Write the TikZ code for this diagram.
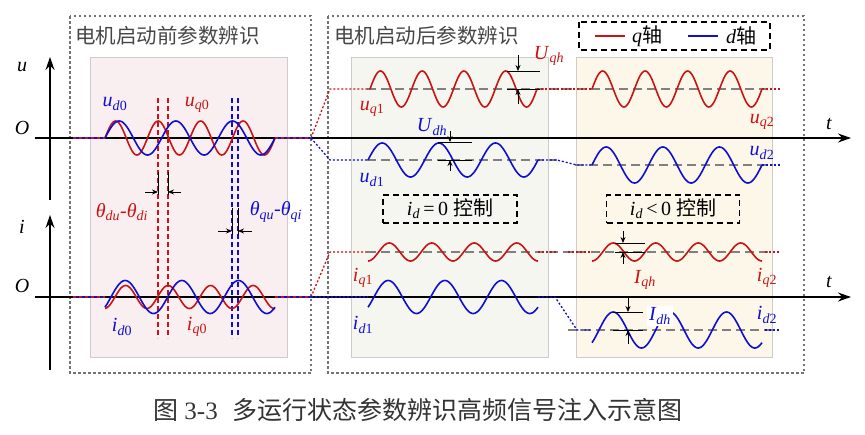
\documentclass[tikz,border=0pt]{standalone}
\usepackage{fontspec}
\setmainfont{Liberation Serif}
\newfontfamily\cjk{Noto Sans CJK SC}
\usetikzlibrary{arrows.meta}
\definecolor{qred}{RGB}{200,20,20}
\definecolor{dblue}{RGB}{15,15,210}
\definecolor{pinkbg}{RGB}{249,239,241}
\definecolor{greenbg}{RGB}{246,246,240}
\definecolor{creambg}{RGB}{253,247,234}
\definecolor{titlegray}{RGB}{70,70,70}
\newcommand{\vv}[2]{\textit{#1}\textsubscript{#2}}
\begin{document}
\begin{tikzpicture}[x=1pt,y=-1pt,
  wave/.style={line width=1.6pt,line join=round},
  qw/.style={wave,draw=qred},
  dw/.style={wave,draw=dblue},
  gdash/.style={draw=gray,line width=1.3pt,dash pattern=on 9pt off 5pt},
  qdot/.style={draw=qred,line width=1.3pt,dash pattern=on 2pt off 2pt},
  ddot/.style={draw=dblue,line width=1.3pt,dash pattern=on 2pt off 2pt},
  qalt/.style={draw=qred,line width=1.4pt,dash pattern=on 3pt off 3pt},
  dalt/.style={draw=dblue,line width=1.4pt,dash pattern=on 3pt off 3pt,dash phase=3pt},
  vq/.style={draw=qred,line width=1.1pt,dash pattern=on 5pt off 3pt},
  vd/.style={draw=dblue,line width=1.1pt,dash pattern=on 5pt off 3pt},
  frame/.style={draw=gray!90!black,line width=1.6pt,dash pattern=on 2.5pt off 2.5pt},
  panel/.style={draw=gray!40,line width=0.8pt},
  axis/.style={line width=1.6pt,-{Stealth[length=13pt,width=9pt]}},
  dim/.style={line width=1pt},
  dimarr/.style={line width=0.8pt,-{Stealth[length=6pt,width=5pt]}},
  lbl/.style={font=\fontsize{20}{24}\selectfont,inner sep=0pt},
  ttl/.style={font=\fontsize{20.5}{24}\selectfont\cjk,text=titlegray,inner sep=0pt}
]
\useasboundingbox (0,0) rectangle (865,434);

% frames and panels
\draw[frame] (70,16) rectangle (311,373);
\draw[frame] (328,16) rectangle (804,373);
\filldraw[panel,fill=pinkbg] (90,57) rectangle (287,357);
\filldraw[panel,fill=greenbg] (351,57) rectangle (548,357);
\filldraw[panel,fill=creambg] (576,57) rectangle (772,357);

\node[ttl,anchor=west] (t1) at (75,36) {电机启动前参数辨识};
\node[ttl,anchor=west] (t2) at (334,36) {电机启动后参数辨识};

% legend
\draw[line width=1.2pt,dash pattern=on 6pt off 4pt] (579,22) rectangle (770,50);
\coordinate (lq1) at (595,36); \coordinate (lq2) at (625,36);
\coordinate (ld1) at (688,36); \coordinate (ld2) at (718,36);
\draw[qw] (lq1) -- (lq2);
\draw[dw] (ld1) -- (ld2);
\node[lbl,anchor=west] (lqt) at (632,36) {\textit{q}{\cjk 轴}};
\node[lbl,anchor=west] (ldt) at (726,36) {\textit{d}{\cjk 轴}};

% gray dashed reference lines
\draw[gdash] (367,89) -- (773,89);
\draw[gdash] (367,160) -- (557,160);
\draw[gdash] (575,165) -- (773,165);
\draw[gdash] (367,252) -- (773,252);
\draw[gdash] (568,330) -- (773,330);

% axes
\coordinate (ua0) at (50,200); \coordinate (ua1) at (50,57);
\coordinate (ia0) at (50,370); \coordinate (ia1) at (50,215);
\coordinate (ut0) at (35,138); \coordinate (ut1) at (851,138);
\coordinate (it0) at (35,297); \coordinate (it1) at (851,297);
\draw[axis] (ua0) -- (ua1);
\draw[axis] (ia0) -- (ia1);
\draw[axis] (ut0) -- (ut1);
\draw[axis] (it0) -- (it1);
\node[lbl] (lu) at (22,67) {\textit{u}};
\node[lbl] (lo1) at (22,128) {\textit{O}};
\node[lbl] (li) at (22,227) {\textit{i}};
\node[lbl] (lo2) at (22,286) {\textit{O}};
\node[lbl] (lt1) at (829,124) {\textit{t}};
\node[lbl] (lt2) at (829,282) {\textit{t}};

% alternating red/blue baseline segments
\draw[qalt] (73,138) -- (105,138); \draw[dalt] (73,138) -- (105,138);
\draw[qalt] (275,138) -- (311,138); \draw[dalt] (275,138) -- (311,138);
\draw[qalt] (73,297) -- (105,297); \draw[dalt] (73,297) -- (105,297);
\draw[qalt] (275,297) -- (311,297); \draw[dalt] (275,297) -- (311,297);

% transitions
\draw[qdot] (311,138) -- (330,89) -- (370,89);
\draw[ddot] (311,138) -- (330,160) -- (368,160);
\draw[qdot] (311,297) -- (330,252) -- (368,252);
\draw[ddot] (311,297) -- (368,297);
\draw[qdot] (537,89) -- (592,89);
\draw[qdot] (762,89) -- (780,89);
\draw[ddot] (538,160) -- (557,160) -- (577,165) -- (592,165);
\draw[ddot] (762,165) -- (780,165);
\draw[qdot] (538,252) -- (557,252);
\draw[qdot] (568,252) -- (592,252);
\draw[qdot] (765,252) -- (780,252);
\draw[ddot] (538,297) -- (555,297) -- (577,330) -- (592,330);
\draw[ddot] (765,330) -- (780,330);

% phase marker dashed lines
\draw[vq] (158,98) -- (158,338);
\draw[vq] (168,98) -- (168,338);
\draw[vd] (232,98) -- (232,338);
\draw[vd] (238,98) -- (238,338);

% pink panel waves
\draw[qw] plot[domain=105:275,samples=160] (\x,{138-17*sin(((\x-105)/42.5)*360)});
\draw[dw] plot[domain=105:275,samples=160] (\x,{138-17*sin(((\x-105)/56.67)*360)});
\draw[qw] plot[domain=105:275,samples=160] (\x,{297-11.5*sin(((\x-115)/42.5)*360)});
\draw[dw] plot[domain=105:275,samples=160] (\x,{297-16.5*sin(((\x-111)/56.67)*360)});

% panel 2 waves
\draw[qw] plot[domain=370:537,samples=160] (\x,{89-18*sin(((\x-370)/41.75)*360)});
\draw[dw] plot[domain=368:538,samples=160] (\x,{160-17*sin(((\x-368)/56.67)*360)});
\draw[qw] plot[domain=368:538,samples=160] (\x,{252+9*cos(((\x-368)/42.5)*360)});
\draw[dw] plot[domain=368:538,samples=160] (\x,{297-16.5*sin(((\x-374)/56.67)*360)});

% panel 3 waves
\draw[qw] plot[domain=592:762,samples=160] (\x,{89-18*sin(((\x-592)/42.5)*360)});
\draw[dw] plot[domain=592:762,samples=160] (\x,{165-18*sin(((\x-592)/56.67)*360)});
\draw[qw] plot[domain=592:762,samples=160] (\x,{252+9*cos(((\x-592)/42.5)*360)});
\draw[dw] plot[domain=592:762,samples=160] (\x,{330-18*sin(((\x-599)/56.67)*360)});

% theta markers
\draw[dim] (158,172) -- (158,195);
\draw[dim] (168,172) -- (168,195);
\draw[dimarr] (145,192) -- (158,192);
\draw[dimarr] (181,192) -- (168,192);
\draw[dim] (232,208) -- (232,235);
\draw[dim] (238,208) -- (238,235);
\draw[dimarr] (218,231) -- (232,231);
\draw[dimarr] (252,231) -- (238,231);

% amplitude markers
\draw[dim] (507,71) -- (540,71);
\draw[dim] (507,89) -- (540,89);
\draw[dimarr] (518,55) -- (518,71);
\draw[dimarr] (518,104) -- (518,89);
\draw[dim] (438,142) -- (472,142);
\draw[dim] (438,160) -- (472,160);
\draw[dimarr] (450,131) -- (450,142);
\draw[dimarr] (450,171) -- (450,160);
\draw[dim] (615,243) -- (645,243);
\draw[dim] (615,252) -- (645,252);
\draw[dimarr] (623,231) -- (623,243);
\draw[dimarr] (623,264) -- (623,252);
\draw[dim] (613,312) -- (643,312);
\draw[dim] (613,330) -- (643,330);
\draw[dimarr] (628,298) -- (628,312);
\draw[dimarr] (628,344) -- (628,330);

% labels
\node[lbl,text=dblue] (ud0) at (115,104) {\vv{u}{\textit{d}0}};
\node[lbl,text=qred] (uq0) at (197,105) {\vv{u}{\textit{q}0}};
\node[lbl,text=qred] (th1) at (122,212) {\vv{θ}{\textit{du}}-\vv{θ}{\textit{di}}};
\node[lbl,text=dblue] (th2) at (276,212) {\vv{θ}{\textit{qu}}-\vv{θ}{\textit{qi}}};
\node[lbl,text=dblue] (id0) at (122,327) {\vv{i}{\textit{d}0}};
\node[lbl,text=qred] (iq0) at (197,327) {\vv{i}{\textit{q}0}};

\node[lbl,text=qred] (uq1) at (372,109) {\vv{u}{\textit{q}1}};
\node[lbl,text=dblue] (ud1) at (372,180) {\vv{u}{\textit{d}1}};
\node[lbl,text=qred] (Uqh) at (549,56) {\vv{U}{\textit{qh}}};
\node[lbl,text=dblue] (Udh) at (432,127) {\vv{U}{\textit{dh}}};
\node[lbl,text=qred] (iq1) at (363,278) {\vv{i}{\textit{q}1}};
\node[lbl,text=dblue] (id1) at (363,325) {\vv{i}{\textit{d}1}};

\node[lbl,text=qred] (uq2) at (762,122) {\vv{u}{\textit{q}2}};
\node[lbl,text=dblue] (ud2) at (762,153) {\vv{u}{\textit{d}2}};
\node[lbl,text=qred] (iq2) at (767,278) {\vv{i}{\textit{q}2}};
\node[lbl,text=dblue] (id2) at (767,315) {\vv{i}{\textit{d}2}};
\node[lbl,text=qred] (Iqh) at (645,280) {\vv{I}{\textit{qh}}};
\node[lbl,text=dblue,fill=white,inner sep=2pt] (Idh) at (660,316) {\vv{I}{\textit{dh}}};

% control boxes
\node[lbl,draw,line width=1.2pt,dash pattern=on 6pt off 4pt,minimum width=134pt,minimum height=28pt] (c1) at (450,209) {\vv{i}{\textit{d}}\,=\,0 {\cjk 控制}};
\node[lbl,draw,line width=1.2pt,dash pattern=on 6pt off 4pt,minimum width=133pt,minimum height=28pt] (c2) at (673,209) {\vv{i}{\textit{d}}\,<\,0 {\cjk 控制}};

% caption
\node[font=\fontsize{25}{30}\selectfont,text=black!80,inner sep=0pt] (cap) at (418,410) {{\cjk 图} 3-3\hspace{0.6em}{\cjk 多运行状态参数辨识高频信号注入示意图}};
\end{tikzpicture}
\end{document}
